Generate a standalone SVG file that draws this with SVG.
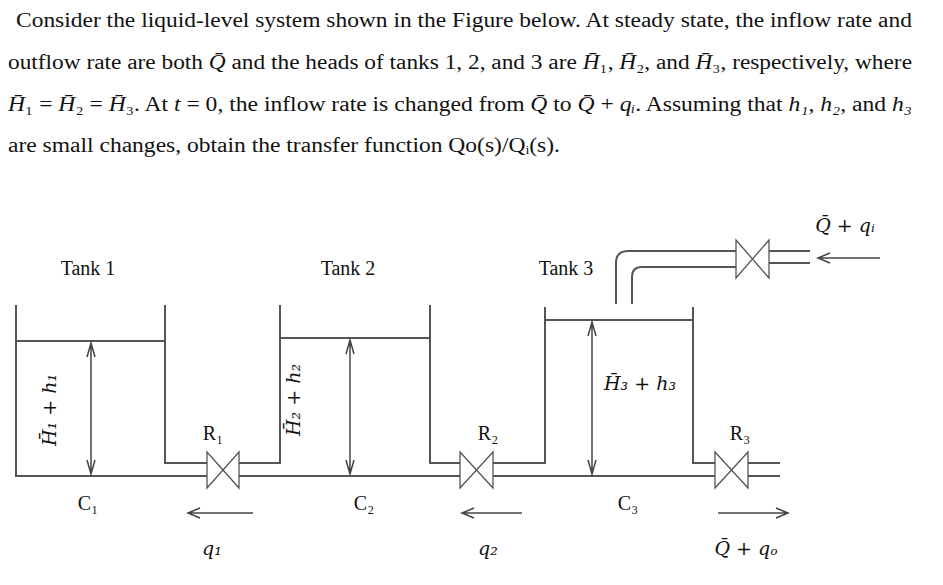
<svg xmlns="http://www.w3.org/2000/svg" width="943" height="585" viewBox="0 0 943 585">
<style>
.t{font-family:"Liberation Serif",serif;font-size:20px;fill:#111}
.m{font-family:"DejaVu Serif","Liberation Serif",serif;font-size:19px;font-style:italic;fill:#111}
.l{stroke:#555;stroke-width:2;fill:none}
.v{stroke:#555;stroke-width:1.3;fill:#fff}
.a{stroke:#444;stroke-width:1.5;fill:none}
</style>
<rect width="943" height="585" fill="#fff"/>
<g id="question" class="t">
<text x="16" y="27" textLength="896" lengthAdjust="spacingAndGlyphs">Consider the liquid-level system shown in the Figure below. At steady state, the inflow rate and</text>
<text x="8" y="69" textLength="904" lengthAdjust="spacingAndGlyphs">outflow rate are both <tspan font-style="italic">Q̄</tspan> and the heads of tanks 1, 2, and 3 are <tspan font-style="italic">H̄</tspan>₁, <tspan font-style="italic">H̄</tspan>₂, and <tspan font-style="italic">H̄</tspan>₃, respectively, where</text>
<text x="8" y="111" textLength="904" lengthAdjust="spacingAndGlyphs"><tspan font-style="italic">H̄</tspan>₁ = <tspan font-style="italic">H̄</tspan>₂ = <tspan font-style="italic">H̄</tspan>₃. At <tspan font-style="italic">t</tspan> = 0, the inflow rate is changed from <tspan font-style="italic">Q̄</tspan> to <tspan font-style="italic">Q̄</tspan> + <tspan font-style="italic">qᵢ</tspan>. Assuming that <tspan font-style="italic">h₁</tspan>, <tspan font-style="italic">h₂</tspan>, and <tspan font-style="italic">h₃</tspan></text>
<text x="8" y="152" textLength="552" lengthAdjust="spacingAndGlyphs">are small changes, obtain the transfer function Qo(s)/Qᵢ(s).</text>
</g>
<g id="tank1">
<path class="l" d="M16,305 V476 H207 M16,341 H165 M165,305 V463 H207"/>
<text class="t" x="88" y="275" text-anchor="middle">Tank 1</text>
<path class="a" d="M91,343 V474 M87,357 L91,343 L95,357 M87,460 L91,474 L95,460"/>
<text class="m" transform="translate(56,410) rotate(-90)" text-anchor="middle">H̄₁ + h₁</text>
<text class="t" x="88" y="510" text-anchor="middle">C₁</text>
</g>
<g id="valveR1">
<path class="v" d="M207,452 L239,488 V452 L207,488 Z"/>
<text class="t" x="213" y="440" text-anchor="middle">R₁</text>
</g>
<g id="tank2">
<path class="l" d="M239,463 H280 V305 M280,338 H430 M430,305 V463 H460 M239,476 H460"/>
<text class="t" x="348" y="275" text-anchor="middle">Tank 2</text>
<path class="a" d="M350,340 V474 M346,354 L350,340 L354,354 M346,460 L350,474 L354,460"/>
<text class="m" transform="translate(300,400) rotate(-90)" text-anchor="middle">H̄₂ + h₂</text>
<text class="t" x="364" y="510" text-anchor="middle">C₂</text>
</g>
<g id="valveR2">
<path class="v" d="M460,452 L493,488 V452 L460,488 Z"/>
<text class="t" x="488" y="440" text-anchor="middle">R₂</text>
</g>
<g id="tank3">
<path class="l" d="M493,463 H545 V307 M545,320 H693 M693,307 V463 H715 M493,476 H715"/>
<text class="t" x="566" y="275" text-anchor="middle">Tank 3</text>
<path class="a" d="M592,322 V474 M588,336 L592,322 L596,336 M588,460 L592,474 L596,460"/>
<text class="m" x="640" y="390" text-anchor="middle">H̄₃ + h₃</text>
<text class="t" x="628" y="510" text-anchor="middle">C₃</text>
</g>
<g id="valveR3">
<path class="v" d="M715,452 L748,488 V452 L715,488 Z"/>
<path class="l" d="M748,463 H780 M748,476 H780"/>
<text class="t" x="740" y="440" text-anchor="middle">R₃</text>
</g>
<g id="inlet">
<path class="l" d="M616,304 V263 Q616,251 628,251 H736 M632,304 V277 Q632,267 642,267 H736 M769,251 H810 M769,263 H810"/>
<path class="v" d="M736,240 L769,278 V240 L736,278 Z"/>
<text class="m" x="845" y="232" text-anchor="middle">Q̄ + qᵢ</text>
</g>
<g id="connectors">
<path class="a" d="M253,513 H188 M200,508 L188,513 L200,518"/>
<path class="a" d="M522,513 H462 M474,508 L462,513 L474,518"/>
<path class="a" d="M718,513 H788 M776,508 L788,513 L776,518"/>
<path class="a" d="M880,258 H818 M830,253 L818,258 L830,263"/>
</g>
<g id="flowlabels">
<text class="m" x="212" y="555" text-anchor="middle">q₁</text>
<text class="m" x="488" y="555" text-anchor="middle">q₂</text>
<text class="m" x="746" y="555" text-anchor="middle">Q̄ + qₒ</text>
</g>
</svg>
